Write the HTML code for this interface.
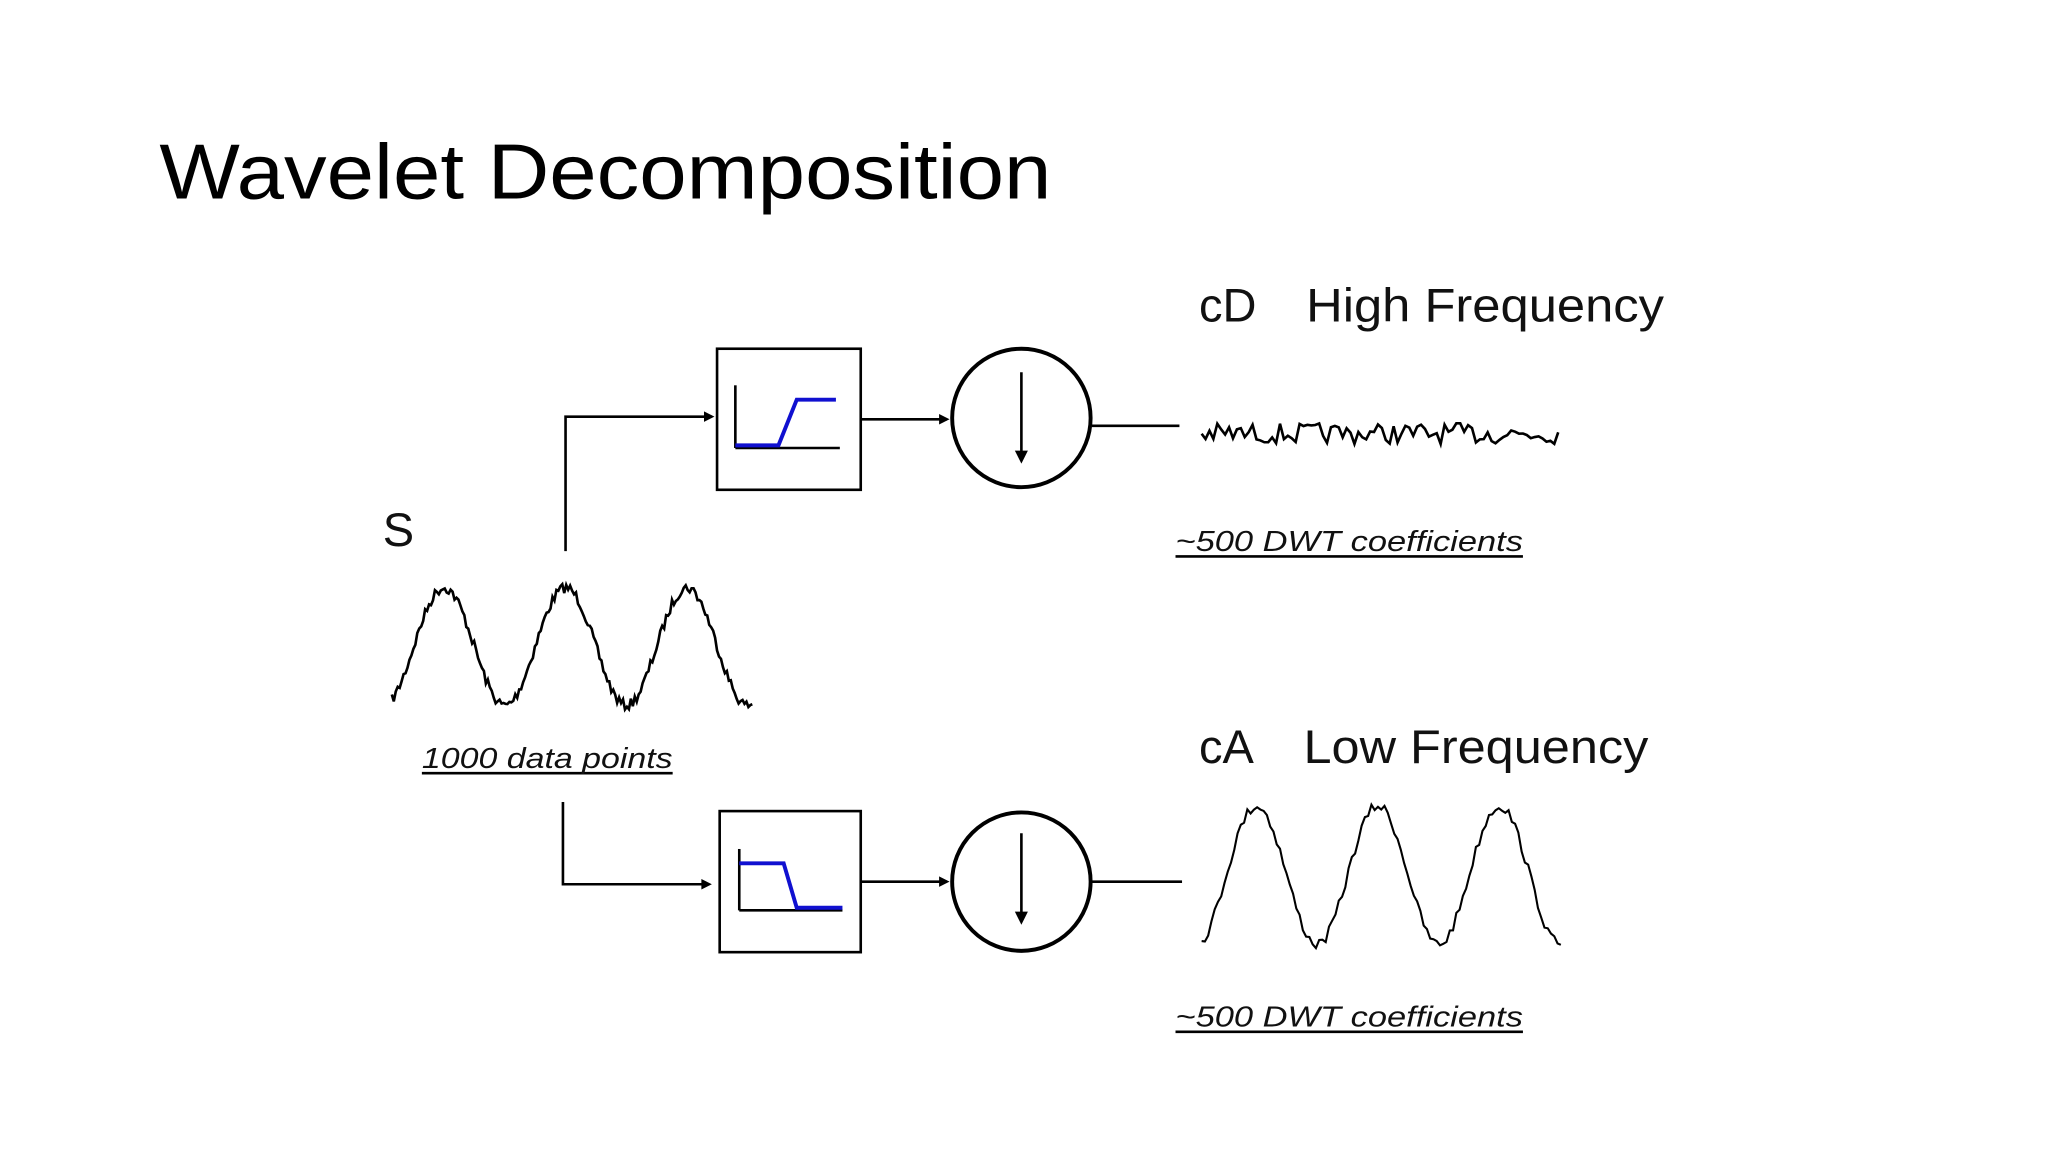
<!DOCTYPE html>
<html><head><meta charset="utf-8"><style>
html,body{margin:0;padding:0;background:#fff;}
svg{display:block;}
text{font-family:"Liberation Sans",sans-serif;fill:#111;}
</style></head><body>
<svg id="s" width="2048" height="1152" viewBox="0 0 1568 882" xmlns="http://www.w3.org/2000/svg">
<rect width="1568" height="882" fill="#fff"/>
<text x="122" y="152" font-size="60" textLength="683" lengthAdjust="spacingAndGlyphs" style="fill:#000">Wavelet Decomposition</text>
<g stroke="#000" stroke-width="2" fill="none">
<polyline points="433,422 433,319 545,319"/>
<rect x="549" y="267" width="110" height="108"/>
<line x1="563" y1="295" x2="563" y2="343"/><line x1="563" y1="343" x2="643" y2="343"/>
<polyline points="563,341 596,341 610,306 640,306" stroke="#1010d0" stroke-width="3"/>
<line x1="659" y1="321" x2="725" y2="321"/>
<circle cx="782" cy="320" r="53" stroke-width="3"/>
<line x1="782" y1="285" x2="782" y2="350"/>
<line x1="836" y1="326" x2="903" y2="326"/>
<polyline points="431,614 431,677 543,677"/>
<rect x="551" y="621" width="108" height="108"/>
<line x1="566" y1="650" x2="566" y2="697"/><line x1="566" y1="697" x2="645" y2="697"/>
<polyline points="566,661 600,661 610,695 645,695" stroke="#1010d0" stroke-width="3"/>
<line x1="659" y1="675" x2="725" y2="675"/>
<circle cx="782" cy="675" r="53" stroke-width="3"/>
<line x1="782" y1="638" x2="782" y2="703"/>
<line x1="836" y1="675" x2="905" y2="675"/>
<line x1="323" y1="592" x2="515" y2="592"/>
<line x1="900" y1="426" x2="1166" y2="426"/>
<line x1="900" y1="790" x2="1166" y2="790"/>
</g>
<g fill="#000">
<polygon points="547,319 539,315 539,323"/>
<polygon points="727,321 719,317 719,325"/>
<polygon points="782,355 777,345 787,345"/>
<polygon points="545,677 537,673 537,681"/>
<polygon points="727,675 719,671 719,679"/>
<polygon points="782,708 777,698 787,698"/>
</g>
<polyline id="w1" fill="none" stroke="#000" stroke-width="2"/>
<polyline id="w2" fill="none" stroke="#000" stroke-width="2"/>
<polyline id="w3" fill="none" stroke="#000" stroke-width="1.6"/>
<text x="293" y="418" font-size="36">S</text>
<text x="323" y="588" font-size="22" font-style="italic" textLength="192" lengthAdjust="spacingAndGlyphs">1000 data points</text>
<text x="918" y="246" font-size="36">cD</text>
<text x="1000" y="246" font-size="36" textLength="274" lengthAdjust="spacingAndGlyphs">High Frequency</text>
<text x="900" y="422" font-size="22" font-style="italic" textLength="266" lengthAdjust="spacingAndGlyphs">~500 DWT coefficients</text>
<text x="918" y="584" font-size="36">cA</text>
<text x="998" y="584" font-size="36" textLength="264" lengthAdjust="spacingAndGlyphs">Low Frequency</text>
<text x="900" y="786" font-size="22" font-style="italic" textLength="266" lengthAdjust="spacingAndGlyphs">~500 DWT coefficients</text>
</svg>
<script>
var seed=7;function r(){seed=(seed*16807)%2147483647;return seed/2147483647-0.5;}
var p=[];for(var x=300;x<=577;x+=1.5){var ph=(x-340)/93*2*Math.PI;var y=495-45*Math.cos(ph)+r()*8;p.push(x.toFixed(1)+","+y.toFixed(1));}
document.getElementById('w1').setAttribute('points',p.join(' '));
p=[];for(var x=920;x<=1195;x+=3){var y=332+r()*16;p.push(x+","+y.toFixed(1));}
document.getElementById('w2').setAttribute('points',p.join(' '));
p=[];for(var x=920;x<=1195;x+=2.5){var ph=(x-962)/93*2*Math.PI;var y=670-53*Math.cos(ph)+r()*8;p.push(x.toFixed(1)+","+y.toFixed(1));}
document.getElementById('w3').setAttribute('points',p.join(' '));
</script>
</body></html>
